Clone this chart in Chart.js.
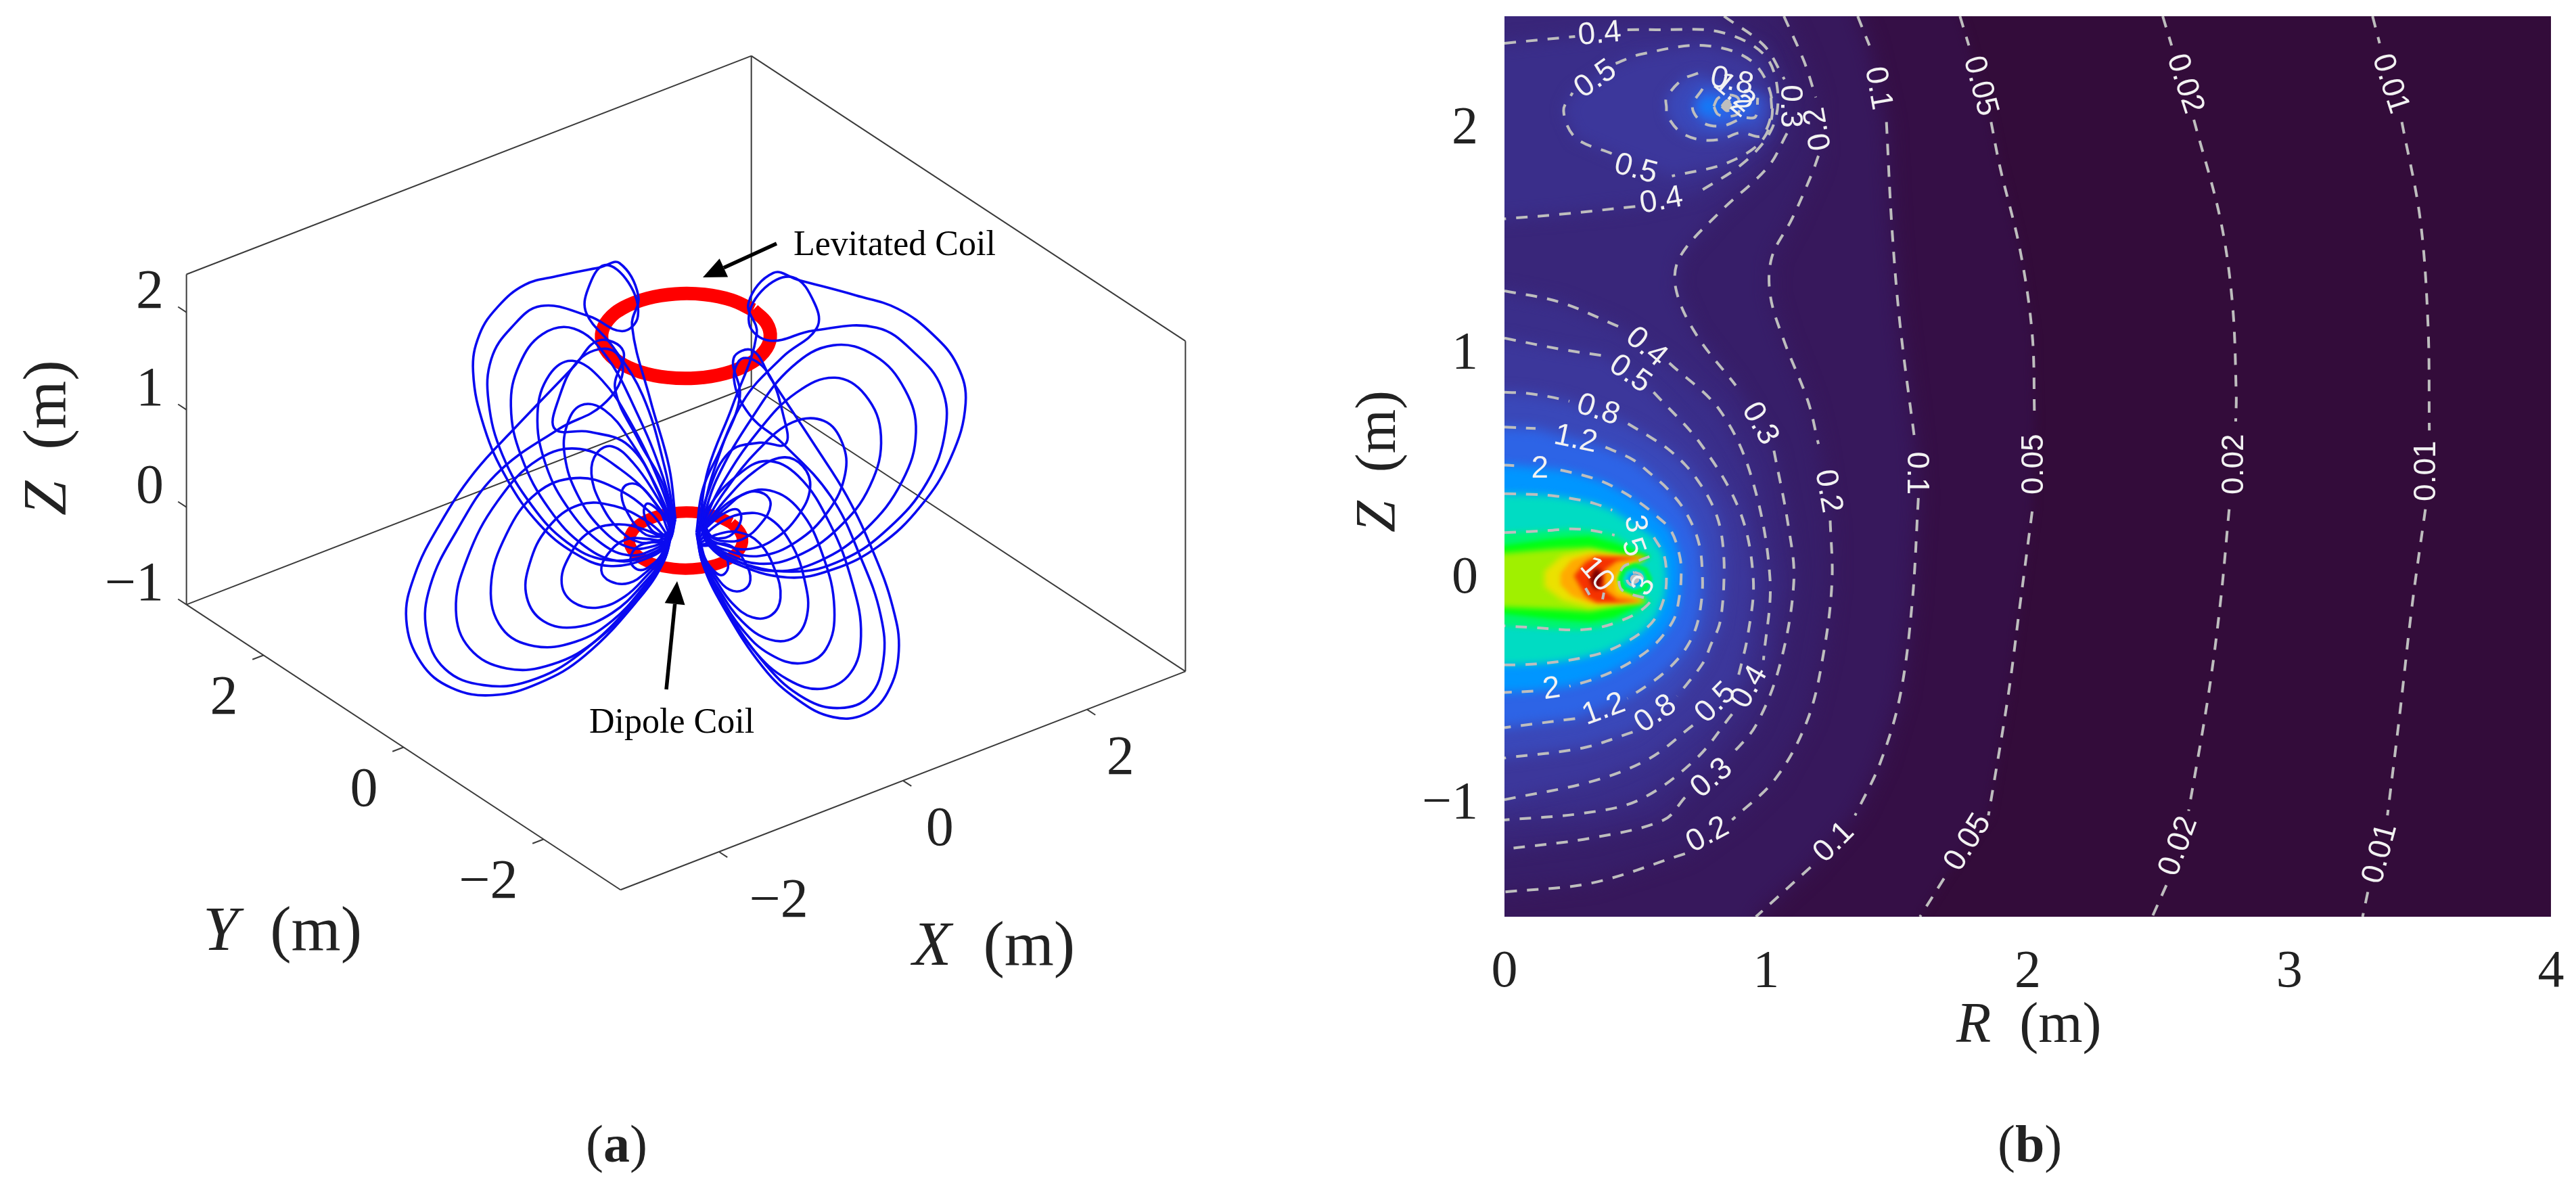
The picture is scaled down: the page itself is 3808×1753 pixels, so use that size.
<!DOCTYPE html>
<html>
<head>
<meta charset="utf-8">
<script src="https://cdn.jsdelivr.net/npm/chart.js@4"></script>
<style>
  html, body { margin: 0; background: #fff; }
  canvas { position: absolute; top: 0; }
</style>
</head>
<body>
<canvas id="coilChart" width="1900" height="1753" style="left:0"></canvas>
<canvas id="fieldChart" width="1908" height="1753" style="left:1900px"></canvas>
<script>
// ---- panel (a): field lines, as [R, Z] in metres, same meridian shape in each plane
const lineA = [[.15,.15],[.24,.64],[.507,1.2],[.77,1.84],[.68,2.19],[.95,2.4],[1.22,2.23],[1.85,1.84],[2.3,1.54],[2.68,1.14],[2.95,.72],[3.04,.3],[2.88,-.2],[2.55,-.58],[2.1,-.82],[1.6,-.88],[1.1,-.78],[.51,-.41],[.24,-.125]];
const lineB = [[.16,.12],[.3,.6],[.62,1.2],[1.05,1.5],[1.42,1.66],[1.4,1.92],[1.16,2.28],[.82,2.26],[.686,1.98],[.91,1.72],[1.38,1.65],[2.07,1.43],[2.5,1.0],[2.78,.55],[2.82,.1],[2.62,-.36],[2.2,-.68],[1.7,-.82],[1.15,-.74],[.5,-.38],[.24,-.12]];
const lineC = [[.17,.1],[.33,.5],[.72,1.0],[1.15,1.36],[1.6,1.42],[2.05,1.15],[2.38,.68],[2.5,.2],[2.35,-.25],[1.95,-.6],[1.45,-.74],[.95,-.66],[.5,-.37],[.24,-.11]];
const lineD = [[.18,.09],[.38,.42],[.78,.83],[1.2,1.08],[1.62,1.08],[1.95,.78],[2.12,.3],[2.0,-.17],[1.65,-.48],[1.2,-.6],[.8,-.53],[.45,-.3],[.25,-.1]];
const lineE = [[.19,.08],[.42,.35],[.78,.64],[1.16,.79],[1.5,.68],[1.7,.38],[1.73,.05],[1.55,-.26],[1.2,-.45],[.8,-.45],[.44,-.26],[.25,-.09]];
const lineF = [[.2,.07],[.44,.27],[.75,.44],[1.05,.47],[1.27,.3],[1.35,.05],[1.22,-.19],[.95,-.34],[.66,-.33],[.42,-.2],[.26,-.08]];
const lineG = [[.21,.06],[.42,.17],[.66,.25],[.85,.17],[.92,.03],[.82,-.12],[.62,-.21],[.42,-.16],[.27,-.06]];
const lineH = [[.22,.05],[.38,.12],[.55,.12],[.6,0],[.5,-.12],[.36,-.11],[.27,-.05]];
const fieldLines = [lineA, lineB, lineC, lineD, lineE, lineF, lineG, lineH];
const planeAngles = [0, 90, 180, 270];

const coilRadii = [.49, .73];
const coilHeights = [0, 2.1];
const coilAngles = [0,20,40,60,80,100,120,140,160,180,200,220,240,260,280,300,320,340,360];

const boxX = [-3.07, 3.07];
const boxY = [-3.1, 3.1];
const boxZ = [-1, 2.39];
const xTicks3d = [-2, 0, 2];
const yTicks3d = [-2, 0, 2];
const zTicks3d = [-1, 0, 1, 2];

// ---- panel (b): contours of the field strength, as [R, Z], null = gap for a label
const c001 = [[3.318,2.5],[3.345,2.38],null,[3.43,2.03],[3.5,1.6],[3.53,1.13],[3.535,.66],null,[3.52,.31],[3.47,-.11],[3.42,-.62],[3.375,-1.05],null,[3.3,-1.39],[3.28,-1.5]];
const c002 = [[2.516,2.5],[2.55,2.37],null,[2.635,2.04],[2.736,1.6],[2.782,1.23],[2.797,.82],[2.795,.7],null,[2.77,.31],[2.736,-.11],[2.69,-.52],[2.615,-1.03],null,[2.53,-1.36],[2.476,-1.5]];
const c005 = [[1.741,2.5],[1.775,2.37],null,[1.86,2.03],[1.894,1.83],[1.971,1.46],[2.017,1.09],[2.026,.72],null,[2.017,.3],[1.971,-.11],[1.925,-.52],[1.85,-1.05],null,[1.68,-1.33],[1.588,-1.5]];
const c01 = [[1.35,2.5],[1.395,2.37],null,[1.46,2.03],[1.481,1.56],[1.512,1.13],[1.57,.6],null,[1.582,.36],[1.558,-.11],[1.512,-.52],[1.435,-.82],[1.34,-1.05],null,[1.17,-1.28],[.961,-1.5]];
const c02 = [[1.068,2.5],[1.145,2.3],[1.19,2.14],null,[1.2,1.88],[1.175,1.8],[1.099,1.6],[1.022,1.43],[1.016,1.26],[1.068,1.06],[1.16,.79],[1.2,.6],null,[1.245,.26],[1.252,-.01],[1.221,-.32],[1.16,-.62],[1.037,-.885],[.87,-1.07],null,[.69,-1.22],[.334,-1.35],[0,-1.39]];
const c03 = [[.839,2.5],[.992,2.37],[1.07,2.22],null,[1.08,1.98],[1.007,1.83],[.823,1.63],[.67,1.43],[.655,1.29],[.731,1.09],[.884,.86],null,[1.03,.57],[1.083,.25],[1.106,-.01],[1.053,-.38],[.961,-.65],[.86,-.79],null,[.69,-.97],[.609,-1.07],[.334,-1.15],[0,-1.2]];
const c04top = [[0,2.38],[.27,2.41],null,[.47,2.44],[.578,2.44],[.823,2.43],[.992,2.33],[1.044,2.17],[1.022,2.0],[.915,1.85],[.731,1.71],null,[.5,1.655],[.211,1.62],[0,1.6]];
const c04low = [[0,1.28],[.211,1.23],[.44,1.12],null,[.63,.96],[.823,.75],[.945,.45],[1.015,0],[.99,-.36],null,[.87,-.6],[.731,-.8],[.517,-.98],[.303,-1.04],[0,-1.07]];
const c05top = [[.425,2.29],[.517,2.33],[.762,2.37],[.945,2.3],[1.022,2.13],[.992,1.96],[.854,1.85],[.64,1.79],null,[.41,1.89],[.272,1.96],[.226,2.08],[.26,2.16]];
const c05low = [[0,1.07],[.22,1.02],[.39,.99],null,[.57,.83],[.75,.6],[.9,.3],[.951,0],[.93,-.25],[.89,-.45],null,[.72,-.65],[.55,-.8],[.33,-.9],[0,-.98]];
const c08top = [[.74,2.247],[.679,2.218],[.619,2.138],[.619,2.098],[.623,2.058],[.67,1.988],[.74,1.953],[.826,1.953],[.903,1.983],[.98,1.968],[1.019,2.058],[1.019,2.138]];
const c08low = [[0,.83],[.084,.825],[.171,.81],[.248,.79],null,[.472,.69],[.558,.63],[.627,.576],[.692,.506],[.74,.436],[.783,.356],[.813,.276],[.83,.195],[.839,.085],[.839,0],[.834,-.105],[.821,-.205],[.791,-.286],[.757,-.376],[.66,-.52],null,[.49,-.68],[.3,-.75],[0,-.795]];
const c12top = [[.757,2.178],[.718,2.098],[.757,2.028],[.834,2.013],[.912,2.048],[.959,2.053],[.968,2.138]];
const c12low = [[0,.675],[.119,.669],null,[.386,.586],[.49,.531],[.55,.476],[.627,.396],[.696,.291],[.744,.155],[.757,0],[.752,-.105],[.735,-.205],[.705,-.286],[.662,-.356],[.6,-.426],[.541,-.476],[.47,-.53],null,[.27,-.62],[0,-.66]];
const c2top = [[.8,2.1],[.815,2.135],[.851,2.15],[.89,2.14],[.9,2.1],[.89,2.065],[.851,2.055],[.815,2.065],[.8,2.1]];
const c2low = [[0,.506],[.037,.504],null,[.214,.484],[.3,.461],[.378,.431],[.446,.391],[.515,.341],[.58,.281],[.636,.216],[.671,.095],[.675,0],[.666,-.095],[.649,-.175],[.602,-.256],[.55,-.316],[.472,-.376],[.403,-.416],[.326,-.451],[.248,-.476],null,[.11,-.498],[0,-.504]];
const c3top = [[.83,2.1],[.851,2.125],[.872,2.1],[.851,2.08],[.83,2.1]];
const c3low = [[0,.379],[.11,.376],[.179,.371],[.265,.356],[.343,.336],[.412,.306],null,[.571,.185],[.61,.105],[.619,0],[.61,-.085],[.576,-.175],[.524,-.236],[.455,-.286],[.378,-.326],[.291,-.351],[.214,-.366],[.136,-.376],[.05,-.381],[0,-.381]];
const c5low = [[0,.206],[.093,.211],[.171,.216],[.257,.223],[.334,.216],[.421,.195],null,[.554,.1],[.498,.075],[.455,.055],[.438,.005],[.446,-.045],[.49,-.07],[.541,-.085],[.56,-.095],[.515,-.145],[.446,-.185],[.36,-.216],[.283,-.226],[.197,-.223],[.119,-.216],[.024,-.21],[0,-.208]];
const c10low = [[.31,-.04],[.325,-.07],null,[.375,-.09],[.38,-.06]];
const coilRing = [[.498,.03],[.52,.02],[.528,0],[.52,-.02],[.498,-.03],[.476,-.02],[.468,0],[.476,.02],[.498,.03]];
const coilCentres = [[.498,0],[.851,2.103]];

// estimated iso-regions of the colour field which have no dashed contour
const spotCore = [[.731,2.098],[.783,2.14],[.835,2.098],[.783,2.058]];
const hotGreen = [[0,.15],[.197,.18],[.326,.19],[.421,.16],[.498,.125],[.559,.1],[.49,.065],[.442,.015],[.455,-.045],[.541,-.1],[.421,-.17],[.326,-.19],[.197,-.18],[0,-.155]];
const hotLime = [[0,.115],[.197,.135],[.326,.14],[.455,.105],[.541,.095],[.49,.06],[.438,.015],[.446,-.045],[.541,-.1],[.455,-.115],[.326,-.145],[.197,-.135],[0,-.125]];
const hotYellow = [[.153,.035],[.222,.105],[.326,.125],[.455,.105],[.546,.097],[.472,.065],[.438,.01],[.446,-.045],[.546,-.1],[.455,-.11],[.326,-.125],[.222,-.095],[.153,-.035]];
const hotOrange = [[.214,.025],[.257,.085],[.326,.11],[.455,.1],[.541,.095],[.455,.065],[.421,.01],[.429,-.055],[.533,-.1],[.421,-.105],[.326,-.105],[.257,-.075],[.214,-.025]];
const hotRed = [[.265,.015],[.309,.075],[.352,.1],[.45,.098],[.54,.097],[.43,.08],[.385,.04],[.38,0],[.385,-.05],[.43,-.09],[.53,-.1],[.43,-.105],[.352,-.105],[.309,-.075]];
const hotDark = [[.326,0],[.343,.045],[.365,.045],[.373,0],[.365,-.045],[.343,-.045]];
const holeGreen = [[.498,.07],[.545,.05],[.565,0],[.545,-.05],[.498,-.07],[.45,-.05],[.432,0],[.45,.05]];
const holeCyan = [[.498,.05],[.53,.035],[.545,0],[.53,-.035],[.498,-.05],[.465,-.035],[.452,0],[.465,.035]];
const holeBlue = [[.498,.028],[.516,.02],[.523,0],[.516,-.02],[.498,-.028],[.48,-.02],[.473,0],[.48,.02]];

const rTicks = [0, 1, 2, 3, 4];
const zTicks = [-1, 0, 1, 2];

// contour labels: text, R, Z, rotation in degrees
const contourLabels = [
  ["0.4",.364,2.42,-5],["0.5",.349,2.22,-35],["0.8",.869,2.21,12],["1.2",.877,2.16,40],["2",.903,2.1,40],
  ["0.3",1.09,2.1,90],["0.2",1.2,2.0,-100],["0.1",1.427,2.18,80],["0.05",1.818,2.19,75],["0.02",2.6,2.2,72],["0.01",3.385,2.2,72],
  ["0.5",.502,1.82,15],["0.4",.6,1.68,-10],["0.4",.542,1.03,40],["0.5",.48,.91,35],["0.8",.358,.75,18],["1.2",.272,.62,12],["2",.135,.49,0],
  ["0.3",.976,.69,60],["0.2",1.236,.39,80],["0.1",1.575,.47,90],["0.05",2.026,.51,-90],["0.02",2.79,.51,-90],["0.01",3.525,.48,-90],
  ["3",.498,.245,80],["5",.49,.14,70],["3",.533,-.03,-60],["10",.352,.02,50],
  ["2",.18,-.49,-8],["1.2",.38,-.58,-20],["0.8",.578,-.6,-35],["0.5",.808,-.55,-45],["0.4",.937,-.48,-60],["0.3",.793,-.885,-40],["0.2",.777,-1.137,-28],
  ["0.1",1.26,-1.17,-45],["0.05",1.772,-1.17,-58],["0.02",2.577,-1.187,-70],["0.01",3.348,-1.22,-75]
];

const serif = '"Liberation Serif", serif';

// parallel projection used in panel (a), result is in the hidden axes of that chart
function project(x, y, z) {
  return { x: 136 * x - 103.5 * y, y: 52.6 * x + 68 * y + 144 * z };
}

function meridian(points, angle) {
  const a = angle * Math.PI / 180;
  const closed = points.concat([points[0]]);
  return closed.map(p => project(p[0] * Math.cos(a), p[0] * Math.sin(a), p[1]));
}

function segment3d(p, q, color, width) {
  return {
    data: [project(p[0], p[1], p[2]), project(q[0], q[1], q[2])],
    showLine: true, borderColor: color, borderWidth: width, pointRadius: 0, tension: 0
  };
}

let coilSets = [];
fieldLines.forEach(line => {
  planeAngles.forEach(angle => {
    coilSets.push({
      data: meridian(line, angle),
      showLine: true, borderColor: "#0a0af0", borderWidth: 3.6, pointRadius: 0, tension: 0.4
    });
  });
});
coilRadii.forEach((radius, i) => {
  coilSets.push({
    data: coilAngles.map(a => project(radius * Math.cos(a * Math.PI / 180), radius * Math.sin(a * Math.PI / 180), coilHeights[i])),
    showLine: true, borderColor: "#ff0000", borderWidth: i == 0 ? 17 : 20, pointRadius: 0, tension: 0.4
  });
});

const boxColor = "#3a3a3a";
const [x0, x1] = boxX, [y0, y1] = boxY, [z0, z1] = boxZ;
[
  [[x0,y1,z0],[x0,y1,z1]], [[x1,y1,z0],[x1,y1,z1]], [[x1,y0,z0],[x1,y0,z1]],
  [[x0,y1,z1],[x1,y1,z1]], [[x1,y1,z1],[x1,y0,z1]],
  [[x0,y1,z0],[x0,y0,z0]], [[x0,y0,z0],[x1,y0,z0]], [[x1,y0,z0],[x1,y1,z0]], [[x1,y1,z0],[x0,y1,z0]]
].forEach(e => coilSets.push(segment3d(e[0], e[1], boxColor, 2)));
zTicks3d.forEach(v => coilSets.push(segment3d([x0,y1,v], [x0,y1 + .12,v], boxColor, 2)));
yTicks3d.forEach(v => coilSets.push(segment3d([x0,v,z0], [x0 - .12,v,z0], boxColor, 2)));
xTicks3d.forEach(v => coilSets.push(segment3d([v,y0,z0], [v,y0 - .12,z0], boxColor, 2)));

function mixedText(ctx, parts, x, y, size, angle) {
  ctx.save();
  ctx.translate(x, y);
  ctx.rotate((angle || 0) * Math.PI / 180);
  ctx.textAlign = "left";
  ctx.textBaseline = "alphabetic";
  ctx.fillStyle = "#222";
  let pos = 0;
  parts.forEach(p => {
    ctx.font = p[1] + " " + size + "px " + serif;
    ctx.fillText(p[0], pos, 0);
    pos += ctx.measureText(p[0]).width;
  });
  ctx.restore();
}

function arrow(ctx, xa, ya, xb, yb) {
  const a = Math.atan2(yb - ya, xb - xa);
  const len = 34, half = 15;
  ctx.save();
  ctx.strokeStyle = "#000";
  ctx.fillStyle = "#000";
  ctx.lineWidth = 5.5;
  ctx.beginPath();
  ctx.moveTo(xa, ya);
  ctx.lineTo(xb - Math.cos(a) * len, yb - Math.sin(a) * len);
  ctx.stroke();
  ctx.beginPath();
  ctx.moveTo(xb, yb);
  ctx.lineTo(xb - Math.cos(a) * len - Math.sin(a) * half, yb - Math.sin(a) * len + Math.cos(a) * half);
  ctx.lineTo(xb - Math.cos(a) * len + Math.sin(a) * half, yb - Math.sin(a) * len - Math.cos(a) * half);
  ctx.closePath();
  ctx.fill();
  ctx.restore();
}

const coilTexts = {
  id: "coilTexts",
  afterDatasetsDraw(chart) {
    const ctx = chart.ctx;
    const sx = chart.scales.x, sy = chart.scales.y;
    const at = (x, y, z) => {
      const p = project(x, y, z);
      return [sx.getPixelForValue(p.x), sy.getPixelForValue(p.y)];
    };
    ctx.save();
    ctx.fillStyle = "#222";
    ctx.font = "82px " + serif;
    ctx.textBaseline = "middle";
    ctx.textAlign = "right";
    zTicks3d.forEach(v => {
      const p = at(x0, y1, v);
      ctx.fillText(String(v).replace("-", "\u2212"), 242, p[1] - 28);
    });
    yTicks3d.forEach(v => {
      const p = at(x0, v, z0);
      ctx.fillText(String(v).replace("-", "\u2212"), p[0] - 38, p[1] + 65);
    });
    const xShift = [132, 75, 70];
    xTicks3d.forEach((v, i) => {
      const p = at(v, y0, z0);
      ctx.fillText(String(v).replace("-", "\u2212"), p[0] + xShift[i], p[1] + 74);
    });
    ctx.fillStyle = "#000";
    ctx.font = "52px " + serif;
    ctx.textAlign = "left";
    ctx.textBaseline = "alphabetic";
    ctx.fillText("Levitated Coil", 1173, 377);
    ctx.fillText("Dipole Coil", 871, 1083);
    ctx.restore();

    arrow(ctx, 1148, 360, 1039, 410);
    arrow(ctx, 985, 1019, 1001, 859);

    mixedText(ctx, [["Y", "italic"], ["  (m)", "normal"]], 300, 1404, 94);
    mixedText(ctx, [["X", "italic"], ["  (m)", "normal"]], 1349, 1426, 94);
    mixedText(ctx, [["Z", "italic"], ["  (m)", "normal"]], 97, 762, 92, -90);
    mixedText(ctx, [["(", "normal"], ["a", "bold"], [")", "normal"]], 866, 1717, 78);
  }
};

new Chart("coilChart", {
  type: "scatter",
  data: { datasets: coilSets },
  options: {
    responsive: false,
    animation: false,
    devicePixelRatio: 1,
    layout: { padding: 0 },
    plugins: { legend: { display: false }, tooltip: { enabled: false } },
    scales: {
      x: { type: "linear", display: false, min: -1014, max: 886 },
      y: { type: "linear", display: false, min: -954, max: 799 }
    }
  },
  plugins: [coilTexts]
});

// ---- panel (b)
const heatBands = [
  [c005, "rgb(53,15,70)", 7],
  [c01, "rgb(55,24,92)", 14],
  [c02, "rgb(55,30,105)", 14],
  [c03, "rgb(57,38,122)", 12],
  [c04top, "rgb(58,46,138)", 12],
  [c04low, "rgb(58,46,138)", 12],
  [c05top, "rgb(60,55,155)", 10],
  [c05low, "rgb(60,55,155)", 10],
  [c08top, "rgb(58,72,185)", 9],
  [c08low, "rgb(58,72,185)", 10],
  [c12top, "rgb(45,100,230)", 9],
  [c12low, "rgb(45,100,230)", 9],
  [spotCore, "rgb(15,125,250)", 8],
  [c2low, "rgb(0,150,255)", 7],
  [c3low, "rgb(0,220,195)", 6],
  [c5low, "rgb(0,245,110)", 4],
  [hotGreen, "rgb(0,255,20)", 3],
  [hotLime, "rgb(160,240,0)", 4],
  [hotYellow, "rgb(235,225,0)", 4],
  [hotOrange, "rgb(255,170,0)", 3],
  [hotRed, "rgb(245,50,0)", 3],
  [hotDark, "rgb(120,0,0)", 3],
  [holeGreen, "rgb(0,250,60)", 2],
  [holeCyan, "rgb(0,215,210)", 2],
  [holeBlue, "rgb(0,140,255)", 2]
];

// closes a contour outside the plot, so that the blur does not fade at the borders
function bandOutline(line) {
  const pts = line.filter(p => p);
  const first = pts[0], last = pts[pts.length - 1];
  const touches = p => p[0] == 0 || p[1] >= 2.5 || p[1] <= -1.5;
  if (!touches(first) || !touches(last)) return pts;
  const outside = p => {
    if (p[1] >= 2.5) return [[p[0], 3], [-.5, 3]];
    if (p[1] <= -1.5) return [[p[0], -2], [-.5, -2]];
    return [[-.5, p[1]]];
  };
  return pts.concat(outside(last), outside(first).reverse());
}

const heatLayer = {
  id: "heatLayer",
  beforeDatasetsDraw(chart) {
    const ctx = chart.ctx, area = chart.chartArea;
    const sx = chart.scales.x, sy = chart.scales.y;
    ctx.save();
    ctx.beginPath();
    ctx.rect(area.left, area.top, area.right - area.left, area.bottom - area.top);
    ctx.clip();
    ctx.fillStyle = "rgb(51,12,58)";
    ctx.fillRect(area.left, area.top, area.right - area.left, area.bottom - area.top);
    heatBands.forEach(band => {
      ctx.filter = "blur(" + band[2] + "px)";
      ctx.fillStyle = band[1];
      ctx.beginPath();
      bandOutline(band[0]).forEach((p, i) => {
        const px = sx.getPixelForValue(p[0]), py = sy.getPixelForValue(p[1]);
        if (i == 0) ctx.moveTo(px, py); else ctx.lineTo(px, py);
      });
      ctx.closePath();
      ctx.fill();
    });
    ctx.restore();
  },
  afterDatasetsDraw(chart) {
    const ctx = chart.ctx;
    const sx = chart.scales.x, sy = chart.scales.y;
    ctx.save();
    ctx.fillStyle = "#f2f2f2";
    ctx.font = '46px "Liberation Sans", sans-serif';
    ctx.textAlign = "center";
    ctx.textBaseline = "middle";
    contourLabels.forEach(l => {
      ctx.save();
      ctx.translate(sx.getPixelForValue(l[1]), sy.getPixelForValue(l[2]));
      ctx.rotate(l[3] * Math.PI / 180);
      ctx.fillText(l[0], 0, 0);
      ctx.restore();
    });
    ctx.restore();
    mixedText(ctx, [["R", "italic"], ["  (m)", "normal"]], 992, 1540, 84);
    mixedText(ctx, [["Z", "italic"], ["  (m)", "normal"]], 162, 787, 84, -90);
    mixedText(ctx, [["(", "normal"], ["b", "bold"], [")", "normal"]], 1053, 1717, 78);
  }
};

const contours = [c001, c002, c005, c01, c02, c03, c04top, c04low, c05top, c05low, c08low, c12low, c2low, c3low, c5low, c10low, c08top, c12top, c2top, c3top, coilRing];
let fieldSets = contours.map(line => ({
  data: line.map(p => p ? { x: p[0], y: p[1] } : { x: null, y: null }),
  showLine: true, spanGaps: false, borderColor: "rgb(190,190,190)", borderWidth: 4,
  borderDash: [17, 15], pointRadius: 0, tension: 0.35
}));
fieldSets.push({
  data: coilCentres.map(p => ({ x: p[0], y: p[1] })),
  showLine: false, pointRadius: 7, pointBackgroundColor: "rgb(190,190,190)", pointBorderWidth: 0
});

new Chart("fieldChart", {
  type: "scatter",
  data: { datasets: fieldSets },
  options: {
    responsive: false,
    animation: false,
    devicePixelRatio: 1,
    layout: { padding: { left: 0, right: 37, top: 24, bottom: 0 } },
    plugins: { legend: { display: false }, tooltip: { enabled: false } },
    scales: {
      x: {
        type: "linear", min: 0, max: 4,
        grid: { display: false }, border: { display: false },
        afterBuildTicks: scale => { scale.ticks = rTicks.map(v => ({ value: v })); },
        afterFit: scale => { scale.height = 398; scale.paddingLeft = 0; scale.paddingRight = 0; },
        ticks: { font: { family: "Liberation Serif", size: 78 }, color: "#222", padding: 28, maxRotation: 0, autoSkip: false }
      },
      y: {
        type: "linear", min: -1.5, max: 2.5,
        grid: { display: false }, border: { display: false },
        afterBuildTicks: scale => { scale.ticks = zTicks.map(v => ({ value: v })); },
        afterFit: scale => { scale.width = 324; scale.paddingTop = 0; scale.paddingBottom = 0; },
        ticks: {
          font: { family: "Liberation Serif", size: 78 }, color: "#222", padding: 31, autoSkip: false,
          callback: v => String(v).replace("-", "\u2212")
        }
      }
    }
  },
  plugins: [heatLayer]
});
</script>
</body>
</html>
